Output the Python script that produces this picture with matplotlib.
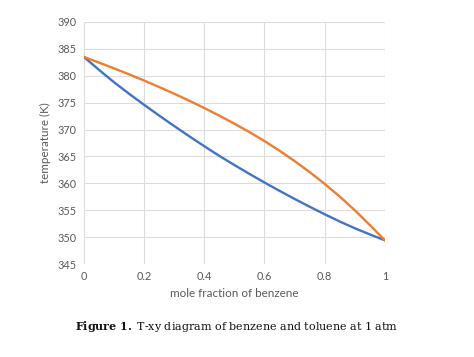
import matplotlib.pyplot as plt

# mole fraction of benzene
x_frac = [0, 0.05, 0.1, 0.15, 0.2, 0.25, 0.3, 0.35, 0.4, 0.45, 0.5,
          0.55, 0.6, 0.65, 0.7, 0.75, 0.8, 0.85, 0.9, 0.95, 1.0]
# bubble point (liquid) and dew point (vapour) temperatures, K
t_liquid = [383.5, 381.1, 378.8, 376.65, 374.6, 372.6, 370.65, 368.75, 366.9, 365.1, 363.4,
            361.75, 360.15, 358.6, 357.1, 355.65, 354.25, 352.9, 351.65, 350.5, 349.4]
t_vapour = [383.5, 382.45, 381.37, 380.26, 379.11, 377.91, 376.66, 375.36, 374.0, 372.58, 371.09,
            369.52, 367.86, 366.06, 364.14, 362.09, 359.89, 357.54, 354.99, 352.24, 349.4]

x_ticks = [0, 0.2, 0.4, 0.6, 0.8, 1]
x_ticklabels = ['0', '0.2', '0.4', '0.6', '0.8', '1']
y_ticks = [345, 350, 355, 360, 365, 370, 375, 380, 385, 390]

plt.rcParams['font.family'] = ['Lato', 'DejaVu Sans']
plt.rcParams['mathtext.fontset'] = 'dejavuserif'
gray = '#595959'

fig = plt.figure(figsize=(4.74, 3.57), dpi=100)
ax = fig.add_axes([0.177, 0.2605, 0.635, 0.678])

ax.plot(x_frac, t_liquid, color='#4472C4', lw=1.7, solid_capstyle='round', solid_joinstyle='round')
ax.plot(x_frac, t_vapour, color='#ED7D31', lw=1.7, solid_capstyle='round', solid_joinstyle='round')

ax.set_xlim(0, 1)
ax.set_ylim(345, 390)
ax.set_xticks(x_ticks)
ax.set_xticklabels(x_ticklabels)
ax.set_yticks(y_ticks)
ax.grid(True, color='#dcdcdc', lw=0.8)
ax.set_axisbelow(True)
for s in ax.spines.values():
    s.set_visible(False)
ax.tick_params(length=0, labelsize=7.8, colors=gray, pad=5)

ax.set_xlabel('mole fraction of benzene', fontsize=8.4, color=gray, labelpad=4)
ax.set_ylabel('temperature (K)', fontsize=8.4, color=gray, labelpad=5)

fig.text(0.5, 0.085, r'$\bf{Figure\ 1.}$ T-xy diagram of benzene and toluene at 1 atm',
         ha='center', va='center', fontsize=8, family='DejaVu Serif', color='#111111')

fig.savefig('out.png', dpi=100)
